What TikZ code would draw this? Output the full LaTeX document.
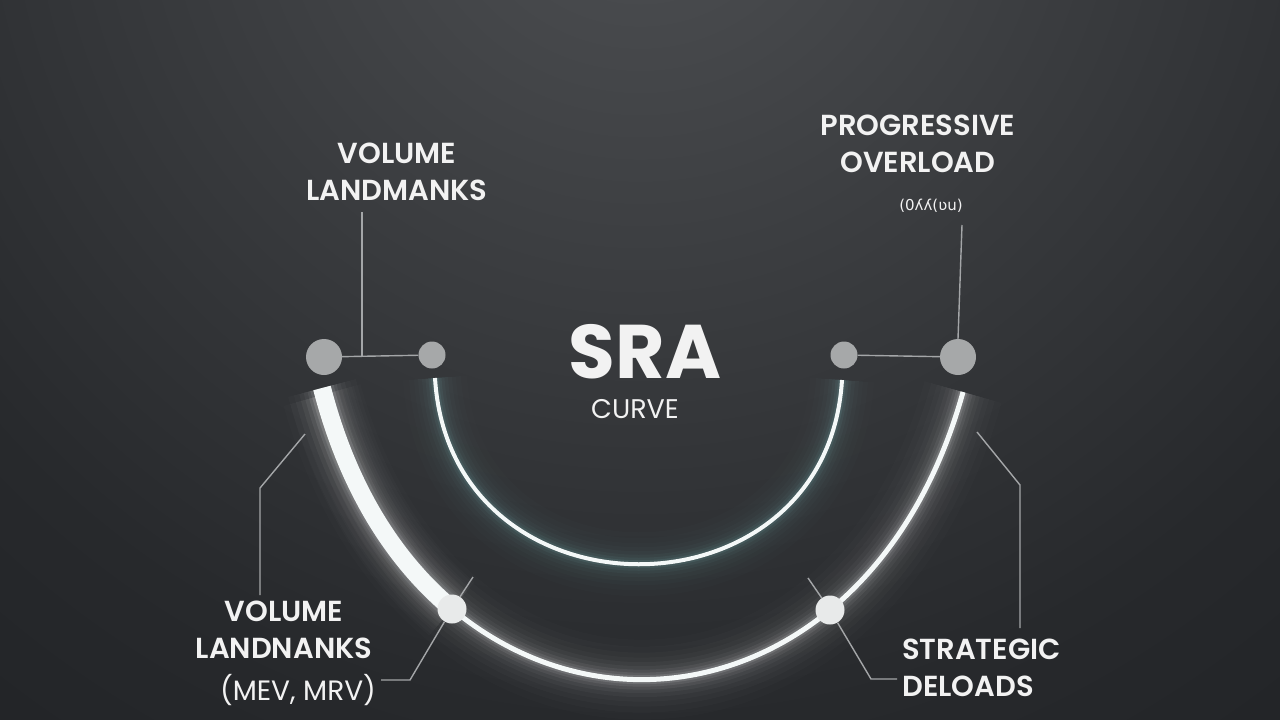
\documentclass[tikz,border=0pt]{standalone}
\usepackage{fontspec}
\setmainfont{Poppins}[BoldFont={Poppins SemiBold}]
\newfontfamily\popb{Poppins}
\newfontfamily\djv{DejaVu Sans}
\usetikzlibrary{calc}
\definecolor{bgA}{HTML}{4E5053}
\definecolor{bgB}{HTML}{27292C}
\definecolor{bgC}{HTML}{141619}
\definecolor{txt}{HTML}{F2F2F2}
\definecolor{linegray}{HTML}{A4A6A8}
\definecolor{dotgray}{HTML}{A6A8A9}
\definecolor{dotwhite}{HTML}{E8EAEA}
\definecolor{tealglow}{HTML}{78B4B6}
\definecolor{arcwhite}{HTML}{F4F8F8}
\pgfdeclareradialshading{bgshade}{\pgfpoint{0bp}{0bp}}{color(0bp)=(bgA); color(12bp)=(bgB); color(25bp)=(bgC); color(50bp)=(bgC)}
\tikzset{
  conn/.style={draw=linegray, line width=1.4pt},
  dotbig/.style={circle, fill=dotgray, minimum size=36pt, inner sep=0pt},
  dotsmall/.style={circle, fill=dotgray, minimum size=27pt, inner sep=0pt},
  dotarc/.style={circle, fill=dotwhite, minimum size=29pt, inner sep=0pt},
  lbl/.style={text=txt, font=\bfseries\fontsize{29}{37}\selectfont, align=center, inner sep=0pt},
}
\begin{document}
\begin{tikzpicture}[x=1pt,y=-1pt]
\useasboundingbox (0,0) rectangle (1280,720);
\begin{scope}
\clip (0,0) rectangle (1280,720);
\fill[bgC] (0,0) rectangle (1280,720);
\shade[shading=bgshade] (640,-140) circle[radius=1800pt];
\end{scope}

% inner arc (glow + core)
\def\innerarc{(435,378) .. controls (450,626) and (827,626) .. (842,380)}
\foreach \w/\o in {64/0.015, 52/0.02, 42/0.025, 34/0.03, 26/0.04, 19/0.05, 13/0.08, 8/0.12}
  \draw[tealglow, line width=\w pt, opacity=\o] \innerarc;
\draw[arcwhite, line width=4pt] \innerarc;

% outer arc (glow + core)
\def\outerarc{(322,395) .. controls (428,775) and (857,775) .. (963,392)}
\def\thickarc{(322,388) .. controls (348.5,490) and (395.2,561.25) .. (451.9,608.75)}
\foreach \w/\o in {80/0.012, 66/0.016, 54/0.02, 44/0.025, 35/0.03, 27/0.04, 20/0.06, 14/0.08, 9/0.12}
  \draw[white, line width=\w pt, opacity=\o] \outerarc;
\foreach \w/\o in {70/0.015, 58/0.02, 47/0.03, 38/0.04, 30/0.06, 24/0.09}
  \draw[white, line width=\w pt, opacity=\o] \thickarc;
\draw[arcwhite, line width=5pt] \outerarc;
\draw[arcwhite, line width=18pt] \thickarc;

% top-left dots and connector
\node[dotbig] (dA) at (324,357) {};
\node[dotsmall] (dB) at (432,355) {};
\draw[conn] (dA) -- (dB);
\coordinate (jA) at (362,357);
\coordinate (tA) at (362,212);
\draw[conn] (tA) -- (jA);
\node[lbl] (lA) at (397,172) {VOLUME\\LANDMANKS};

% top-right dots and connector
\node[dotsmall] (dC) at (844,355) {};
\node[dotbig] (dD) at (958,357) {};
\draw[conn] (dC) -- (dD);
\coordinate (tD) at (962,225);
\draw[conn] (tD) -- (dD.north);
\node[lbl] (lD) at (918,144) {PROGRESSIVE\\OVERLOAD};
\node[text=txt, font=\djv\fontsize{15}{16}\selectfont, inner sep=0pt] (lDs) at (931,206) {(0ʎʎ(ʋu)};

% centre title
\node[text=txt, font=\popb\bfseries\fontsize{76}{76}\selectfont, inner sep=0pt, anchor=base] (sra) at (645,378) {SRA};
\node[text=txt, font=\fontsize{27}{27}\selectfont, inner sep=0pt, anchor=base] (curve) at (635,418) {CURVE};

% dots on outer arc
\node[dotarc] (dL) at (452,609) {};
\node[dotarc] (dR) at (830,610) {};

% bottom-left connectors and label
\coordinate (aL1) at (305,434);
\coordinate (aL2) at (260,488);
\coordinate (aL3) at (260,595);
\draw[conn] (aL1) -- (aL2) -- (aL3);
\coordinate (bL1) at (473,577);
\coordinate (bL2) at (410,680);
\coordinate (bL3) at (381,680);
\draw[conn] (bL1) -- (dL) -- (bL2) -- (bL3);
\node[lbl] (lL) at (284,630) {VOLUME\\LANDNANKS};
\node[text=txt, font=\fontsize{28}{30}\selectfont, inner sep=0pt] (lLs) at (298,690) {(MEV, MRV)};

% bottom-right connectors and label
\coordinate (aR1) at (977,432);
\coordinate (aR2) at (1020,485);
\coordinate (aR3) at (1020,628);
\draw[conn] (aR1) -- (aR2) -- (aR3);
\coordinate (bR1) at (808,578);
\coordinate (bR2) at (871,679);
\coordinate (bR3) at (897,679);
\draw[conn] (bR1) -- (dR) -- (bR2) -- (bR3);
\node[lbl, align=left, anchor=west] (lR) at (902,668) {STRATEGIC\\DELOADS};
\end{tikzpicture}
\end{document}
